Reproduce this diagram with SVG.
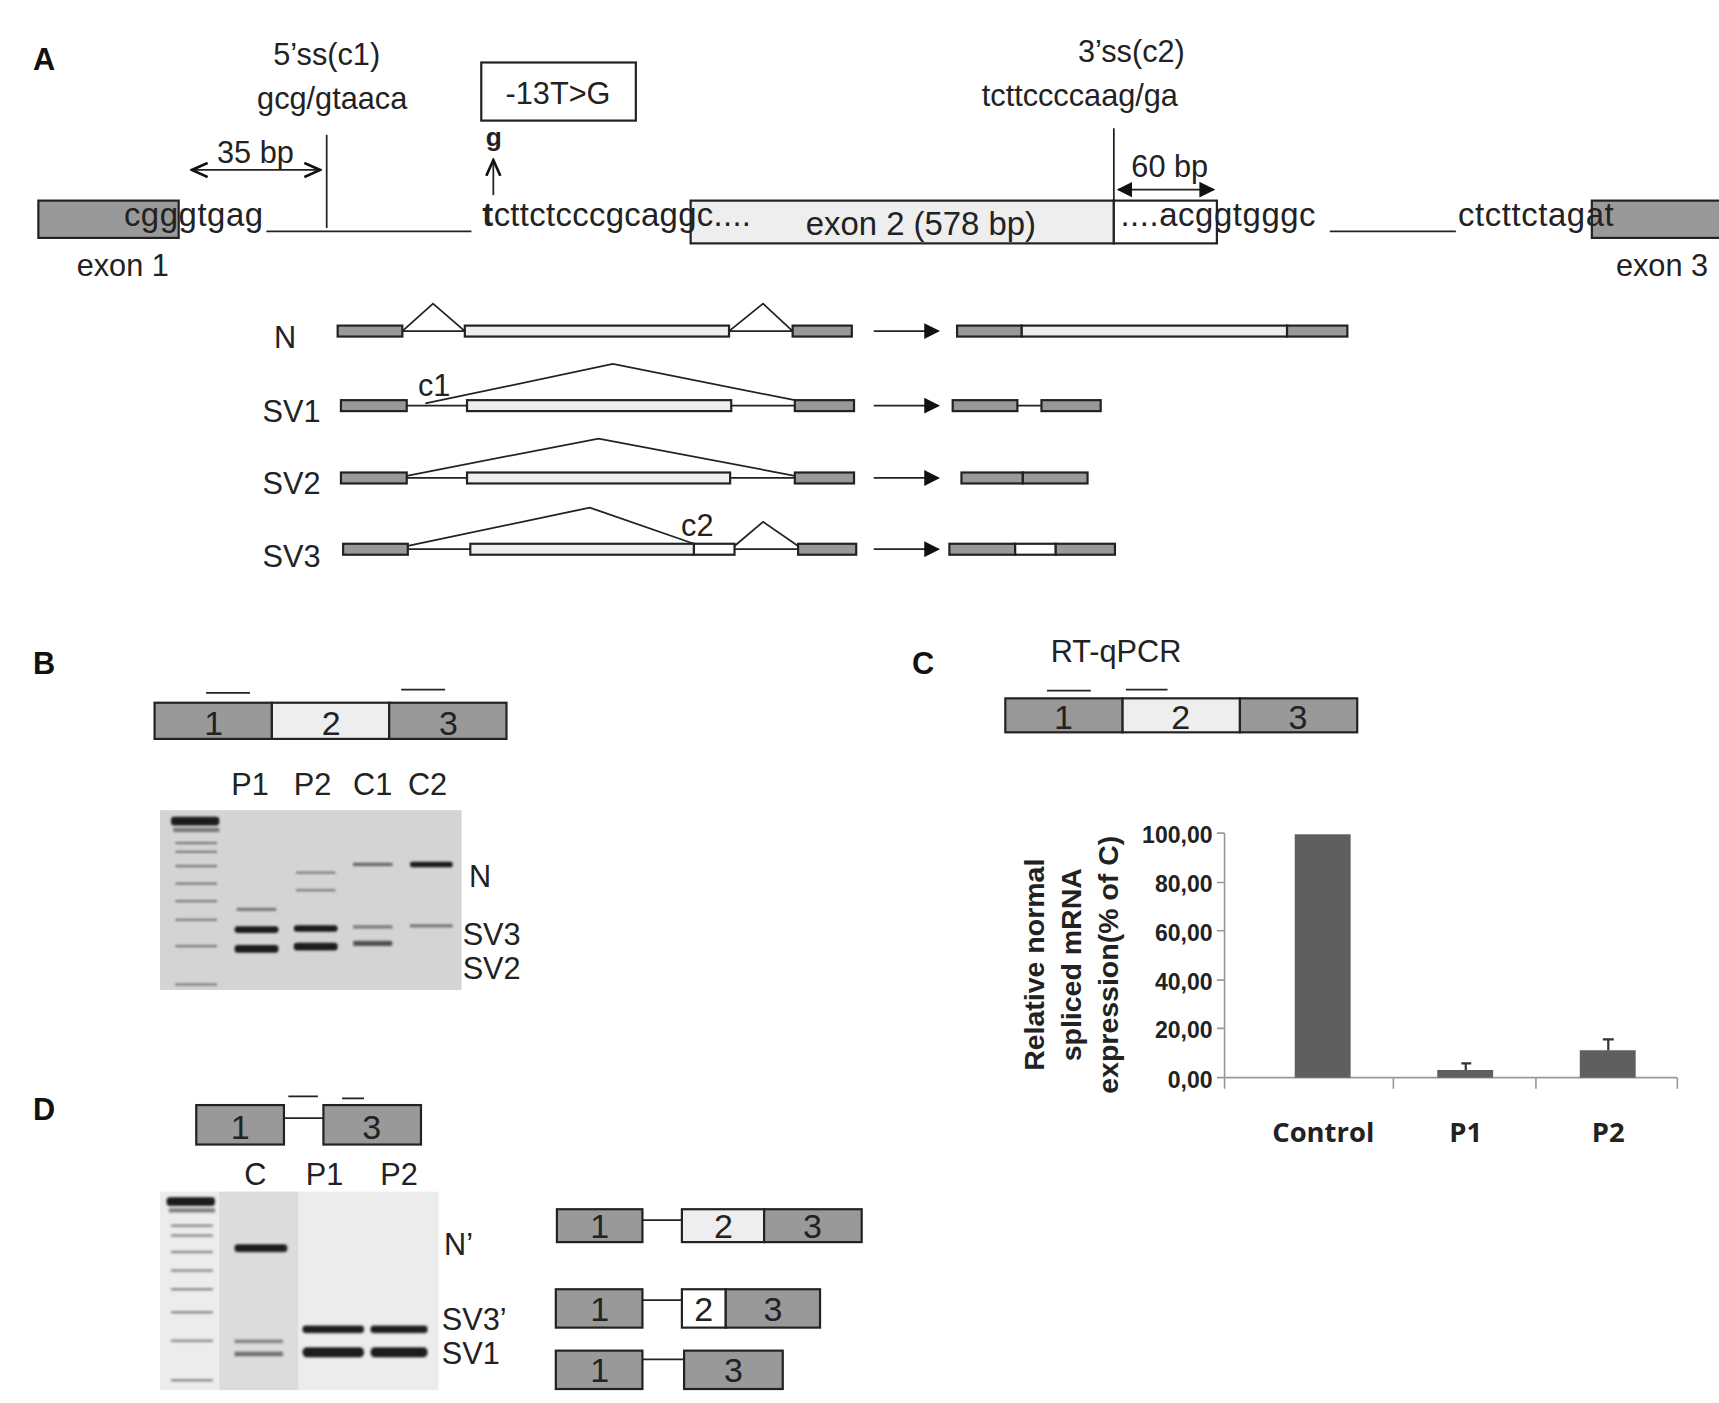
<svg xmlns="http://www.w3.org/2000/svg" width="1719" height="1403" viewBox="0 0 1719 1403">
<defs>
<style>
text{font-family:"Liberation Sans",Arial,sans-serif;fill:#222}
.t{font-size:28px}
.s{font-size:30px}
.n{font-size:31px}
.lab{font-size:28px;font-weight:bold;fill:#111}
.dk{fill:#999;stroke:#222;stroke-width:2}
.lt{fill:#eee;stroke:#222;stroke-width:2}
.wh{fill:#fff;stroke:#222;stroke-width:2}
.ln{stroke:#222;stroke-width:1.6;fill:none}
.bar{fill:#5f5f5f}
.ax{stroke:#999;stroke-width:1.5}
.tk{font-size:21px;font-weight:bold;text-anchor:end}
.cat{font-size:25px;font-weight:bold;text-anchor:middle;font-family:"Open Sans","Liberation Sans",sans-serif}
.gel{fill:#d4d4d4}
.band{fill:#1e1e1e}
.lad{fill:#555;opacity:.7}
</style>
<marker id="ah" viewBox="0 0 10 10" refX="9" refY="5" markerWidth="9" markerHeight="9" orient="auto-start-reverse"><path d="M0,0L10,5L0,10z" fill="#111"/></marker>
<marker id="av" viewBox="0 0 10 10" refX="9" refY="5" markerWidth="10" markerHeight="10" orient="auto-start-reverse"><path d="M0,1L9,5L0,9" fill="none" stroke="#111" stroke-width="1.5"/></marker>
<filter id="bl"><feGaussianBlur stdDeviation="1.2"/></filter>
</defs>
<rect width="1719" height="1403" fill="#fff"/>
<g transform="scale(1.0963)">
<g id="panelA">
<text class="lab" x="30" y="64">A</text>
<text class="t" x="298" y="59" text-anchor="middle" fill="#333">5’ss(c1)</text>
<text class="t" x="303" y="99" text-anchor="middle">gcg/gtaaca</text>
<rect x="439" y="57" width="141" height="53" class="wh"/>
<text class="t" x="509" y="95" text-anchor="middle">-13T&gt;G</text>
<text x="443" y="133" style="font-size:24px;font-weight:bold">g</text>
<text class="t" x="233" y="149" text-anchor="middle">35 bp</text>
<text class="t" x="1032" y="57" text-anchor="middle" fill="#333">3’ss(c2)</text>
<text class="t" x="985" y="97" text-anchor="middle">tcttccccaag/ga</text>
<text class="t" x="1067" y="161" text-anchor="middle">60 bp</text>
<rect x="35" y="183" width="128" height="34" class="dk"/>
<rect x="630" y="183" width="386" height="39" class="lt"/>
<rect x="1016" y="183" width="94" height="39" class="wh"/>
<rect x="1452" y="183" width="120" height="34" class="dk"/>
<text class="s" x="113" y="206" textLength="127">cgggtgag</text>
<text class="s" x="440" y="206" textLength="245"><tspan font-weight="bold">t</tspan>cttctcccgcaggc....</text>
<text class="s" x="840" y="214" text-anchor="middle">exon 2 (578 bp)</text>
<text class="s" x="1022" y="206" textLength="178">....acggtgggc</text>
<text class="s" x="1330" y="206" textLength="142">ctcttctagat</text>
<text class="t" x="112" y="252" text-anchor="middle">exon 1</text>
<text class="t" x="1516" y="252" text-anchor="middle">exon 3</text>
<text class="t" x="260" y="317" text-anchor="middle">N</text>
<text class="t" x="266" y="385" text-anchor="middle">SV1</text>
<text class="t" x="266" y="451" text-anchor="middle">SV2</text>
<text class="t" x="266" y="517" text-anchor="middle">SV3</text>
<text class="t" x="396" y="361" text-anchor="middle">c1</text>
<text class="t" x="636" y="489" text-anchor="middle">c2</text>
</g>
<g id="isoforms">
<rect x="308" y="297" width="59" height="10" class="dk"/><rect x="424" y="297" width="241" height="10" class="lt"/><rect x="723" y="297" width="54" height="10" class="dk"/>
<rect x="873" y="297" width="59" height="10" class="dk"/><rect x="932" y="297" width="242" height="10" class="lt"/><rect x="1174" y="297" width="55" height="10" class="dk"/>
<rect x="311" y="365" width="60" height="10" class="dk"/><rect x="426" y="365" width="241" height="10" class="lt"/><rect x="725" y="365" width="54" height="10" class="dk"/>
<rect x="869" y="365" width="59" height="10" class="dk"/><rect x="950" y="365" width="54" height="10" class="dk"/>
<rect x="311" y="431" width="60" height="10" class="dk"/><rect x="426" y="431" width="240" height="10" class="lt"/><rect x="725" y="431" width="54" height="10" class="dk"/>
<rect x="877" y="431" width="56" height="10" class="dk"/><rect x="933" y="431" width="59" height="10" class="dk"/>
<rect x="313" y="496" width="59" height="10" class="dk"/><rect x="429" y="496" width="204" height="10" class="lt"/><rect x="633" y="496" width="37" height="10" class="wh"/><rect x="728" y="496" width="53" height="10" class="dk"/>
<rect x="866" y="496" width="60" height="10" class="dk"/><rect x="926" y="496" width="37" height="10" class="wh"/><rect x="963" y="496" width="54" height="10" class="dk"/>
</g>
<g id="connectors">
<line class="ln" x1="298" y1="123" x2="298" y2="208"/>
<line class="ln" x1="175" y1="155" x2="292" y2="155" marker-start="url(#av)" marker-end="url(#av)"/>
<line class="ln" x1="450" y1="178" x2="450" y2="146" marker-end="url(#av)"/>
<line class="ln" x1="1016" y1="117" x2="1016" y2="183"/>
<line class="ln" x1="1020" y1="173" x2="1107" y2="173" marker-start="url(#ah)" marker-end="url(#ah)"/>
<line class="ln" x1="243" y1="211" x2="430" y2="211"/>
<line class="ln" x1="1213" y1="211" x2="1328" y2="211"/>
<path class="ln" d="M367,302H424M665,302H723M367,302L395,277L424,302M665,302L696,277L723,302"/>
<path class="ln" d="M371,370H426M667,370H725M388,368L559,332L725,365M928,370H950"/>
<path class="ln" d="M371,436H426M666,436H725M371,434L546,400L725,434"/>
<path class="ln" d="M372,501H429M670,501H728M372,498L538,463L633,496M670,498L696,476L728,498"/>
<line class="ln" x1="797" y1="302" x2="856" y2="302" marker-end="url(#ah)"/>
<line class="ln" x1="797" y1="370" x2="856" y2="370" marker-end="url(#ah)"/>
<line class="ln" x1="797" y1="436" x2="856" y2="436" marker-end="url(#ah)"/>
<line class="ln" x1="797" y1="501" x2="856" y2="501" marker-end="url(#ah)"/>
</g>
<g id="panelB">
<text class="lab" x="30" y="615">B</text>
<rect x="141" y="641" width="107" height="33" class="dk"/><rect x="248" y="641" width="107" height="33" class="lt"/><rect x="355" y="641" width="107" height="33" class="dk"/>
<text class="n" x="195" y="670" text-anchor="middle">1</text><text class="n" x="302" y="670" text-anchor="middle">2</text><text class="n" x="409" y="670" text-anchor="middle">3</text>
<path class="ln" d="M188,632H228M366,629H406" stroke-width="2.4"/>
<text class="t" x="228" y="725" text-anchor="middle">P1</text><text class="t" x="285" y="725" text-anchor="middle">P2</text><text class="t" x="340" y="725" text-anchor="middle">C1</text><text class="t" x="390" y="725" text-anchor="middle">C2</text>
<rect class="gel" x="146" y="739" width="275" height="164"/>
<g filter="url(#bl)">
<rect class="band" x="156" y="745" width="44" height="8" rx="3"/><rect class="lad" x="158" y="755" width="42" height="4"/>
<rect class="lad" x="160" y="768" width="38" height="2"/><rect class="lad" x="160" y="776" width="38" height="2"/><rect class="lad" x="160" y="789" width="38" height="2"/><rect class="lad" x="160" y="805" width="38" height="2"/><rect class="lad" x="160" y="821" width="38" height="2"/><rect class="lad" x="160" y="838" width="38" height="2"/><rect class="lad" x="160" y="862" width="38" height="2"/><rect class="lad" x="160" y="897" width="38" height="2"/>
<rect class="band" x="214" y="845" width="40" height="6" rx="3"/><rect class="band" x="214" y="862" width="40" height="7" rx="3"/><rect class="lad" x="216" y="828" width="36" height="3" opacity=".4"/>
<rect class="band" x="268" y="844" width="40" height="6" rx="3"/><rect class="band" x="268" y="860" width="40" height="7" rx="3"/><rect class="lad" x="270" y="795" width="36" height="2" opacity=".4"/><rect class="lad" x="270" y="811" width="36" height="2" opacity=".4"/>
<rect class="band" x="322" y="858" width="36" height="5" rx="2" opacity=".7"/><rect class="lad" x="322" y="844" width="36" height="3" opacity=".4"/><rect class="band" x="322" y="787" width="36" height="3" opacity=".6"/>
<rect class="band" x="374" y="786" width="39" height="5" rx="2"/><rect class="lad" x="374" y="843" width="39" height="3" opacity=".4"/>
</g>
<text class="t" x="438" y="809" text-anchor="middle">N</text>
<text class="t" x="422" y="862">SV3</text><text class="t" x="422" y="893">SV2</text>
</g>
<g id="panelD">
<text class="lab" x="30" y="1022">D</text>
<rect x="179" y="1008" width="80" height="36" class="dk"/><rect x="295" y="1008" width="89" height="36" class="dk"/>
<path class="ln" d="M259,1020H295"/>
<path class="ln" d="M263,1000H290M312,1002H332" stroke-width="2.4"/>
<text class="n" x="219" y="1039" text-anchor="middle">1</text><text class="n" x="339" y="1039" text-anchor="middle">3</text>
<text class="t" x="233" y="1081" text-anchor="middle">C</text><text class="t" x="296" y="1081" text-anchor="middle">P1</text><text class="t" x="364" y="1081" text-anchor="middle">P2</text>
<rect x="146" y="1087" width="254" height="181" fill="#ececec"/>
<rect x="200" y="1087" width="72" height="181" fill="#dcdcdc"/>
<g filter="url(#bl)">
<rect class="band" x="152" y="1092" width="44" height="8" rx="3"/><rect class="lad" x="154" y="1102" width="42" height="4"/>
<rect class="lad" x="156" y="1117" width="38" height="2"/><rect class="lad" x="156" y="1126" width="38" height="2"/><rect class="lad" x="156" y="1141" width="38" height="2"/><rect class="lad" x="156" y="1158" width="38" height="2"/><rect class="lad" x="156" y="1175" width="38" height="2"/><rect class="lad" x="156" y="1196" width="38" height="2"/><rect class="lad" x="156" y="1222" width="38" height="2"/><rect class="lad" x="156" y="1258" width="38" height="2"/>
<rect class="band" x="214" y="1135" width="48" height="7" rx="3"/><rect class="band" x="214" y="1233" width="44" height="4" opacity=".6"/><rect class="lad" x="214" y="1222" width="44" height="3" opacity=".4"/>
<rect class="band" x="276" y="1209" width="56" height="7" rx="3"/><rect class="band" x="276" y="1229" width="56" height="9" rx="4"/>
<rect class="band" x="338" y="1209" width="52" height="7" rx="3"/><rect class="band" x="338" y="1229" width="52" height="9" rx="4"/>
</g>
<text class="t" x="405" y="1145">N’</text><text class="t" x="403" y="1213">SV3’</text><text class="t" x="403" y="1244">SV1</text>
</g>
<g id="panelDright">
<rect x="508" y="1103" width="78" height="30" class="dk"/><rect x="622" y="1103" width="75" height="30" class="lt"/><rect x="697" y="1103" width="89" height="30" class="dk"/>
<rect x="507" y="1176" width="79" height="35" class="dk"/><rect x="622" y="1176" width="40" height="35" class="wh"/><rect x="662" y="1176" width="86" height="35" class="dk"/>
<rect x="507" y="1232" width="79" height="35" class="dk"/><rect x="624" y="1232" width="90" height="35" class="dk"/>
<path class="ln" d="M586,1113H622M586,1186H622M586,1240H624"/>
<text class="n" x="547" y="1129" text-anchor="middle">1</text><text class="n" x="660" y="1129" text-anchor="middle">2</text><text class="n" x="741" y="1129" text-anchor="middle">3</text>
<text class="n" x="547" y="1205" text-anchor="middle">1</text><text class="n" x="642" y="1205" text-anchor="middle">2</text><text class="n" x="705" y="1205" text-anchor="middle">3</text>
<text class="n" x="547" y="1261" text-anchor="middle">1</text><text class="n" x="669" y="1261" text-anchor="middle">3</text>
</g>
<g id="panelC">
<text class="lab" x="832" y="615">C</text>
<text class="t" x="1018" y="604" text-anchor="middle" fill="#333">RT-qPCR</text>
<rect x="917" y="637" width="107" height="31" class="dk"/><rect x="1024" y="637" width="107" height="31" class="lt"/><rect x="1131" y="637" width="107" height="31" class="dk"/>
<text class="n" x="970" y="665" text-anchor="middle">1</text><text class="n" x="1077" y="665" text-anchor="middle">2</text><text class="n" x="1184" y="665" text-anchor="middle">3</text>
<path class="ln" d="M955,630H995M1027,629H1065" stroke-width="2.4"/>
</g>
<g id="chart">
<path class="ax" d="M1117,760V993M1110,760H1117M1110,805H1117M1110,849H1117M1110,894H1117M1110,938H1117M1110,983H1530M1271,983V993M1401,983V993M1530,983V993"/>
<text class="tk" x="1106" y="769">100,00</text><text class="tk" x="1106" y="814">80,00</text><text class="tk" x="1106" y="858">60,00</text><text class="tk" x="1106" y="903">40,00</text><text class="tk" x="1106" y="947">20,00</text><text class="tk" x="1106" y="992">0,00</text>
<rect class="bar" x="1181" y="761" width="51" height="222"/>
<rect class="bar" x="1311" y="976" width="51" height="7"/>
<rect class="bar" x="1441" y="958" width="51" height="25"/>
<path stroke="#333" stroke-width="2" d="M1337,976V970M1333,970H1342M1467,958V948M1462,948H1472"/>
<text class="cat" x="1207" y="1042">Control</text><text class="cat" x="1337" y="1042">P1</text><text class="cat" x="1467" y="1042">P2</text>
<g transform="translate(980,880) rotate(-90)" style="font-size:26px;font-weight:bold;font-family:'Liberation Sans',sans-serif">
<text x="0" y="-28" text-anchor="middle">Relative normal</text>
<text x="0" y="6" text-anchor="middle">spliced mRNA</text>
<text x="0" y="40" text-anchor="middle">expression(% of C)</text>
</g>
</g>
</g>
</svg>
